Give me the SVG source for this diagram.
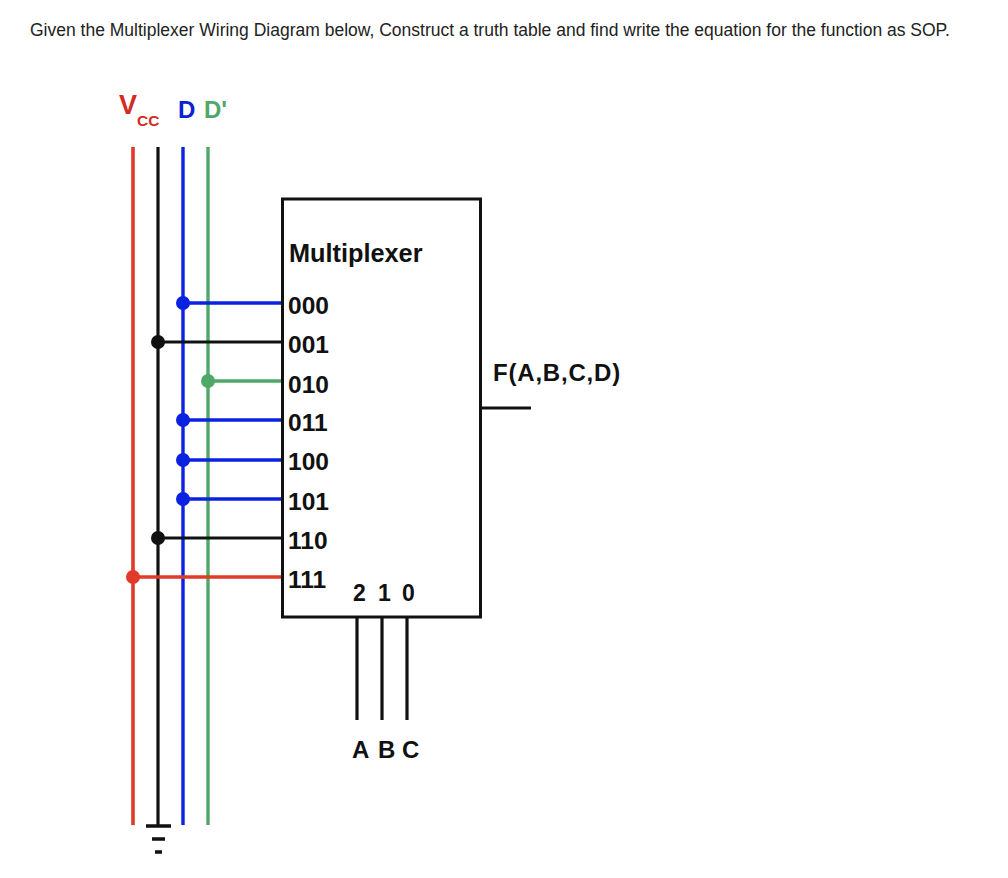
<svg xmlns="http://www.w3.org/2000/svg" width="1008" height="878" viewBox="0 0 1008 878">
<style>
text{font-family:"Liberation Sans",Arial,sans-serif;fill:#111}
.b{font-weight:700}
.l{fill:none;stroke-width:3.2}
.k{stroke:#111}.r{stroke:#e03a2a;stroke-width:3.6}.u{stroke:#0a22e0;stroke-width:3.4}.g{stroke:#4fa868;stroke-width:3.4}
.pin{font-size:24.5px;font-weight:700}
.w{letter-spacing:1.5px}
</style>
<rect width="1008" height="878" fill="#fff"/>
<text x="30" y="35.500" font-size="17.500" style="fill:#222">Given the Multiplexer Wiring Diagram below, Construct a truth table and find write the equation for the function as SOP.</text>
<g id="rails">
<path class="l r" d="M133 147V825"/>
<path class="l k" d="M158 147V826"/>
<path class="l u" d="M183 147V825"/>
<path class="l g" d="M208 147V825"/>
</g>
<g id="connectors">
<path class="l u" d="M183 303H283"/>
<path class="l k" d="M158 342H283"/>
<path class="l g" d="M208 381H283"/>
<path class="l u" d="M183 420H283"/>
<path class="l u" d="M183 460H283"/>
<path class="l u" d="M183 499H283"/>
<path class="l k" d="M158 538H283"/>
<path class="l r" d="M133 577H283"/>
<path class="l k" d="M357 617V720M382 617V720M407 617V720"/>
<path class="l k" d="M481 408H531"/>
<circle cx="183" cy="303" r="7" fill="#0a22e0"/>
<circle cx="158" cy="342" r="7" fill="#111"/>
<circle cx="208" cy="381" r="7" fill="#4fa868"/>
<circle cx="183" cy="420" r="7" fill="#0a22e0"/>
<circle cx="183" cy="460" r="7" fill="#0a22e0"/>
<circle cx="183" cy="499" r="7" fill="#0a22e0"/>
<circle cx="158" cy="538" r="7" fill="#111"/>
<circle cx="133" cy="577" r="7" fill="#e03a2a"/>
</g>
<g id="ground">
<path class="k" fill="none" stroke-width="3.5" d="M146 826H171M152 839H165M155 852H162"/>
</g>
<g id="multiplexer">
<rect x="282.500" y="199" width="198" height="418" fill="#fff" stroke="#111" stroke-width="3"/>
<text class="b" x="289" y="262" font-size="25.300">Multiplexer</text>
<text class="pin" x="288" y="314">000</text>
<text class="pin" x="288" y="353">001</text>
<text class="pin" x="288" y="393">010</text>
<text class="pin" x="288" y="431">011</text>
<text class="pin" x="288" y="470">100</text>
<text class="pin" x="288" y="510">101</text>
<text class="pin" x="288" y="549">110</text>
<text class="pin" x="288" y="588">111</text>
<text class="b" x="353" y="601" font-size="23">2</text>
<text class="b" x="378" y="601" font-size="23">1</text>
<text class="b" x="402" y="601" font-size="23">0</text>
</g>
<g id="labels">
<text class="b" x="119" y="114" font-size="27" style="fill:#d42a22">V</text>
<text class="b" x="137" y="126" font-size="15.500" style="fill:#d42a22">CC</text>
<text class="b" x="178" y="118" font-size="24" style="fill:#0a22d0">D</text>
<text class="b" x="204" y="118" font-size="24" style="fill:#4fa868">D'</text>
<text class="b" x="493" y="381" font-size="24" letter-spacing="0.800">F(A,B,C,D)</text>
<text class="b" x="352" y="758" font-size="24">A</text>
<text class="b" x="378" y="758" font-size="24">B</text>
<text class="b" x="402" y="758" font-size="24">C</text>
</g>
</svg>
